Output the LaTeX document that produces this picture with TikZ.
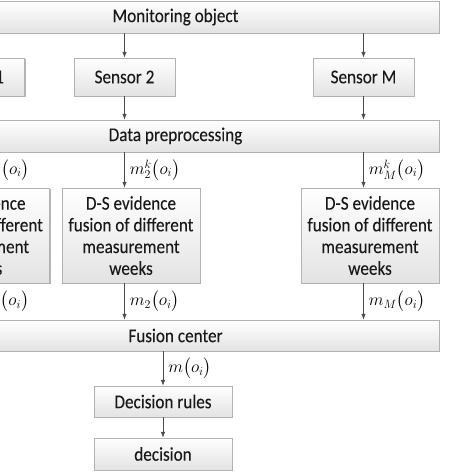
\documentclass[tikz,border=0pt]{standalone}
\usepackage{amsmath}
\usepackage[no-math]{fontspec}
\setmainfont{Carlito}[FakeStretch=0.88, FakeBold=0.08]
\usetikzlibrary{arrows.meta,shadows}

\tikzset{
  block/.style={draw=gray!60, top color=white, bottom color=gray!22,
    drop shadow={shadow xshift=1.2pt, shadow yshift=-1.2pt, fill=gray!80, opacity=0.7},
    text=black!90, align=center, inner sep=0pt,
    font=\fontsize{19.5}{21.7}\selectfont},
  flow/.style={-{Latex[length=6pt,width=4.5pt]}, draw=black!70, line width=0.7pt},
  mlabel/.style={right, inner sep=0pt, xshift=5pt, font=\fontsize{18}{20}\selectfont}
}

\begin{document}
\begin{tikzpicture}[x=1pt, y=-1pt]
    \useasboundingbox (0,0) rectangle (474,474);
    \clip (0,0) rectangle (474,474);

    % Wide bars
    \node[block, minimum width=527pt, minimum height=32pt] (mon) at (175.5,17) {Monitoring object};
    \node[block, minimum width=527pt, minimum height=32pt] (pre) at (175.5,136) {Data preprocessing};
    \node[block, minimum width=527pt, minimum height=31pt] (fus) at (175.5,335.5) {Fusion center};

    % Sensors and per-sensor evidence fusion
    \foreach \n/\x in {1/-26, 2/124.5, M/363.5} {
        \node[block, minimum width=101pt, minimum height=38pt] (s\n) at (\x,77) {Sensor \n};
        \node[block, minimum width=138pt, minimum height=95pt] (ds\n) at (\x+6.5,235.5)
            {D-S evidence\\fusion of different\\measurement\\weeks};
        \draw[flow] (s\n.north |- mon.south) -- (s\n.north);
        \draw[flow] (s\n.south) -- (s\n.south |- pre.north);
        \draw[flow] (s\n.south |- pre.south) -- node[mlabel] {$m_{\n}^{k}\bigl(o_i\bigr)$} (s\n.south |- ds\n.north);
        \draw[flow] (s\n.south |- ds\n.south) -- node[mlabel] {$m_{\n}\bigl(o_i\bigr)$} (s\n.south |- fus.north);
    }

    % Decision
    \node[block, minimum width=138pt, minimum height=31pt] (rules) at (163,401.5) {Decision rules};
    \node[block, minimum width=138pt, minimum height=32pt] (dec) at (163,454) {decision};
    \draw[flow] (rules.north |- fus.south) -- node[mlabel] {$m\bigl(o_i\bigr)$} (rules.north);
    \draw[flow] (rules) -- (dec);
\end{tikzpicture}
\end{document}
